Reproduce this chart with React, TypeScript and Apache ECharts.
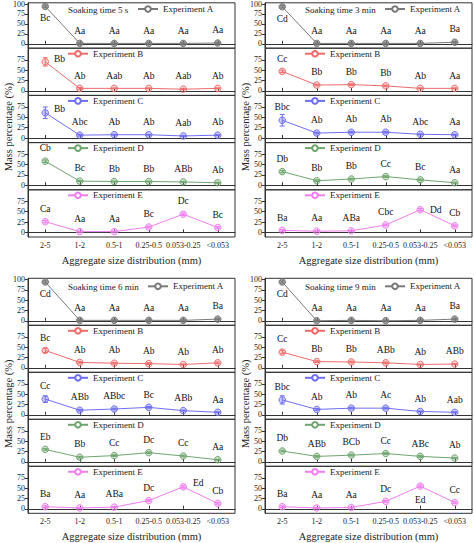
import { useEffect, useRef } from 'react'
import * as echarts from 'echarts'

const sizeClasses = ['2-5', '1-2', '0.5-1', '0.25-0.5', '0.053-0.25', '<0.053']
const experiments = ['Experiment A', 'Experiment B', 'Experiment C', 'Experiment D', 'Experiment E']
const soakingTimes = ['Soaking time 5 s', 'Soaking time 3 min', 'Soaking time 6 min', 'Soaking time 9 min']

// mass percentage (%), rows = experiments A..E
const values5s = [
  [94, 1, 1, 1, 1, 2],
  [70, 6, 6, 6, 4, 6],
  [61, 7, 8, 8, 5, 7],
  [58, 10, 9, 9, 8, 6],
  [26, 2, 2, 13, 44, 12],
]
const values3min = [
  [93, 1, 1, 1, 1, 4],
  [47, 14, 15, 12, 6, 6],
  [43, 12, 14, 14, 9, 8],
  [33, 11, 15, 21, 13, 6],
  [5, 3, 4, 18, 55, 16],
]
const values6min = [
  [94, 1, 1, 1, 1, 4],
  [42, 13, 11, 10, 8, 12],
  [38, 11, 14, 18, 10, 6],
  [30, 11, 15, 22, 14, 5],
  [5, 2, 4, 20, 53, 13],
]
const values9min = [
  [94, 0, 1, 0, 1, 4],
  [38, 15, 14, 12, 8, 9],
  [36, 13, 16, 16, 8, 6],
  [26, 13, 16, 20, 13, 9],
  [5, 2, 3, 18, 55, 15],
]

// standard deviations
const errors5s = [
  [3, 1, 1, 1, 1, 1],
  [10, 2, 1, 1, 1, 1],
  [14, 2, 1, 1, 1, 1],
  [3, 1, 1, 1, 1, 1],
  [3, 1, 1, 2, 3, 2],
]
const errors3min = [
  [3, 1, 1, 1, 1, 1],
  [3, 2, 2, 2, 1, 1],
  [14, 2, 2, 2, 1, 1],
  [3, 2, 2, 2, 2, 1],
  [2, 1, 1, 2, 3, 2],
]
const errors6min = [
  [3, 1, 1, 1, 1, 1],
  [5, 2, 2, 2, 1, 2],
  [8, 2, 2, 2, 1, 1],
  [2, 2, 2, 2, 2, 1],
  [2, 1, 1, 2, 3, 2],
]
const errors9min = [
  [3, 1, 1, 1, 1, 1],
  [4, 2, 2, 2, 1, 1],
  [10, 2, 2, 2, 1, 1],
  [2, 2, 2, 2, 2, 1],
  [2, 1, 1, 2, 3, 2],
]

// significance letters
const letters5s = [
  ['Bc', 'Aa', 'Aa', 'Aa', 'Aa', 'Aa'],
  ['Bb', 'Ab', 'Aab', 'Ab', 'Aab', 'Ab'],
  ['Bb', 'Abc', 'Ab', 'Ab', 'Aab', 'Ab'],
  ['Cb', 'Bc', 'Bb', 'Bb', 'ABb', 'Ab'],
  ['Ca', 'Aa', 'Aa', 'Bc', 'Dc', 'Bc'],
]
const letters3min = [
  ['Cd', 'Aa', 'Aa', 'Aa', 'Aa', 'Ba'],
  ['Cc', 'Bb', 'Bb', 'Bb', 'Ab', 'Aa'],
  ['Bbc', 'Ab', 'Ab', 'Ab', 'Abc', 'Aa'],
  ['Db', 'Bb', 'Bb', 'Cc', 'Bc', 'Aa'],
  ['Ba', 'Aa', 'ABa', 'Cbc', 'Dd', 'Cb'],
]
const letters6min = [
  ['Cd', 'Aa', 'Aa', 'Aa', 'Aa', 'Ba'],
  ['Bc', 'Ab', 'Ab', 'Ab', 'Ab', 'Ab'],
  ['Cc', 'ABb', 'ABbc', 'Bc', 'ABb', 'Aa'],
  ['Eb', 'Bb', 'Cc', 'Dc', 'Cc', 'Aa'],
  ['Ba', 'Aa', 'ABa', 'Dc', 'Ed', 'Cb'],
]
const letters9min = [
  ['Cd', 'Aa', 'Aa', 'Aa', 'Aa', 'Ba'],
  ['Cc', 'Bb', 'Bb', 'ABb', 'Ab', 'ABb'],
  ['Bbc', 'Ab', 'Ab', 'Ac', 'Ab', 'Aab'],
  ['Db', 'ABb', 'BCb', 'Cc', 'ABc', 'Ab'],
  ['Ba', 'Aa', 'Aa', 'Dc', 'Ed', 'Cc'],
]

const panelValues = [values5s, values3min, values6min, values9min]
const panelErrors = [errors5s, errors3min, errors6min, errors9min]
const panelLetters = [letters5s, letters3min, letters6min, letters9min]

const lineColors = ['#7a7a7a', '#ef6b6b', '#6e6ef0', '#6fa66f', '#f07ef0']
const fillColors = [
  'rgba(120,120,120,0.7)',
  'rgba(239,107,107,0.25)',
  'rgba(110,110,240,0.35)',
  'rgba(111,166,111,0.35)',
  'rgba(240,126,240,0.35)',
]

const FONT = "'Liberation Serif', 'Times New Roman', serif"
const FRAME = '#333'

// label placements that differ from "above the point"
const labelTweaks: Record<string, any> = {
  '0-1-0': { position: 'right', distance: 5, offset: [0, -3] },
  '0-2-0': { position: 'right', distance: 5, offset: [0, -4] },
  '1-4-4': { position: 'right', distance: 6 },
  '2-4-4': { position: 'right', distance: 6, offset: [0, -4] },
  '3-4-4': { position: 'bottom', distance: 5 },
}

export default function App() {
  const chartRef = useRef<HTMLDivElement>(null)

  useEffect(() => {
    document.body.style.margin = '0'
    if (!chartRef.current) return
    const chart = echarts.init(chartRef.current, undefined, { renderer: 'svg' })

    const grids: any[] = []
    const xAxes: any[] = []
    const yAxes: any[] = []
    const series: any[] = []
    const legends: any[] = []
    const graphics: any[] = []

    const panelLeft = [28, 265, 28, 265]
    const panelTop = [1, 1, 278.3, 278.3]
    const subH = [47.2, 47.2, 47, 47]
    const plotW = 207

    panelValues.forEach((values, p) => {
      const left = panelLeft[p]
      values.forEach((row, e) => {
        const gi = grids.length
        const top = panelTop[p] + e * subH[p]
        grids.push({
          left,
          top,
          width: plotW,
          height: subH[p],
          show: true,
          borderColor: FRAME,
          borderWidth: 1,
          backgroundColor: 'transparent',
        })
        const isBottom = e === values.length - 1
        xAxes.push({
          type: 'category',
          gridIndex: gi,
          data: sizeClasses,
          boundaryGap: true,
          axisLine: { show: true, lineStyle: { color: FRAME, width: 1 } },
          axisTick: { show: true, inside: true, alignWithLabel: true, length: 3, lineStyle: { color: FRAME } },
          axisLabel: {
            show: isBottom,
            fontFamily: FONT,
            fontSize: 8,
            color: '#222',
            margin: 4,
            interval: 0,
          },
          splitLine: { show: false },
        })
        const ticks = e === 0 ? [0, 25, 50, 75, 100] : [0, 25, 50, 75]
        yAxes.push({
          type: 'value',
          gridIndex: gi,
          min: -11,
          max: 103,
          axisLine: { show: true, lineStyle: { color: FRAME, width: 1 } },
          axisTick: { show: true, inside: false, length: 3, customValues: ticks, lineStyle: { color: FRAME } },
          axisLabel: { fontFamily: FONT, fontSize: 8, color: '#222', margin: 3, customValues: ticks },
          splitLine: { show: false },
        })

        const letters = panelLetters[p][e]
        series.push({
          name: experiments[e],
          type: 'line',
          xAxisIndex: gi,
          yAxisIndex: gi,
          symbol: 'emptyCircle',
          symbolSize: 6.5,
          lineStyle: { color: lineColors[e], width: 1 },
          itemStyle: { color: lineColors[e], borderColor: lineColors[e], borderWidth: 1 },
          z: 3,
          data: row.map((v, i) => {
            const tweak = labelTweaks[`${p}-${e}-${i}`] ||
              (e === 0 && i === 0 ? { position: 'bottom', distance: 3 } : { position: 'top', distance: 4 })
            return {
              value: v,
              symbol: 'circle',
              itemStyle: { color: fillColors[e], borderColor: lineColors[e], borderWidth: 1 },
              label: {
                show: true,
                formatter: letters[i],
                fontFamily: FONT,
                fontSize: 9.5,
                color: '#111',
                ...tweak,
              },
            }
          }),
        })

        const errs = panelErrors[p][e]
        const color = lineColors[e]
        series.push({
          type: 'custom',
          xAxisIndex: gi,
          yAxisIndex: gi,
          z: 4,
          silent: true,
          encode: { x: 0, y: [1, 2] },
          data: row.map((v, i) => [i, v - errs[i], v + errs[i]]),
          renderItem: (_params: any, api: any) => {
            const x = api.value(0)
            const lo = api.coord([x, api.value(1)])
            const hi = api.coord([x, api.value(2)])
            const w = 2.5
            const style = { stroke: color, lineWidth: 1 }
            return {
              type: 'group',
              children: [
                { type: 'line', shape: { x1: lo[0], y1: lo[1], x2: hi[0], y2: hi[1] }, style },
                { type: 'line', shape: { x1: lo[0] - w, y1: lo[1], x2: lo[0] + w, y2: lo[1] }, style },
                { type: 'line', shape: { x1: hi[0] - w, y1: hi[1], x2: hi[0] + w, y2: hi[1] }, style },
              ],
            }
          },
        })

        const legendLeft = e === 0 ? left + (p === 0 ? 109 : 119) : left + 39
        const legendCenter = e === 0 ? top + 9 : top + 6.5
        legends.push({
          data: [experiments[e]],
          left: legendLeft,
          top: legendCenter - 5.5,
          padding: 0,
          itemWidth: 20,
          itemHeight: 7,
          itemGap: 4,
          textStyle: { fontFamily: FONT, fontSize: 9, color: '#222' },
          selectedMode: false,
        })
      })

      // panel title text
      graphics.push({
        type: 'text',
        x: left + 40,
        y: panelTop[p] + 9,
        style: {
          text: soakingTimes[p],
          fontFamily: FONT,
          fontSize: 9,
          fill: '#222',
          textAlign: 'left',
          textVerticalAlign: 'middle',
        },
      })
      const plotBottom = panelTop[p] + 5 * subH[p]
      graphics.push({
        type: 'text',
        x: left + plotW / 2,
        y: plotBottom + 23.5,
        style: {
          text: 'Aggregate size distribution (mm)',
          fontFamily: FONT,
          fontSize: 10.5,
          fill: '#222',
          textAlign: 'center',
          textVerticalAlign: 'middle',
        },
      })
      graphics.push({
        type: 'text',
        x: left - 20,
        y: (panelTop[p] + plotBottom) / 2 + 8,
        rotation: Math.PI / 2,
        style: {
          text: 'Mass percentage (%)',
          fontFamily: FONT,
          fontSize: 10.5,
          fill: '#222',
          textAlign: 'center',
          textVerticalAlign: 'middle',
        },
      })
    })

    chart.setOption({
      animation: false,
      backgroundColor: '#fff',
      textStyle: { fontFamily: FONT },
      grid: grids,
      xAxis: xAxes,
      yAxis: yAxes,
      legend: legends,
      series,
      graphic: graphics,
    })

    return () => {
      chart.dispose()
    }
  }, [])

  return <div ref={chartRef} style={{ width: 474, height: 543 }} />
}
